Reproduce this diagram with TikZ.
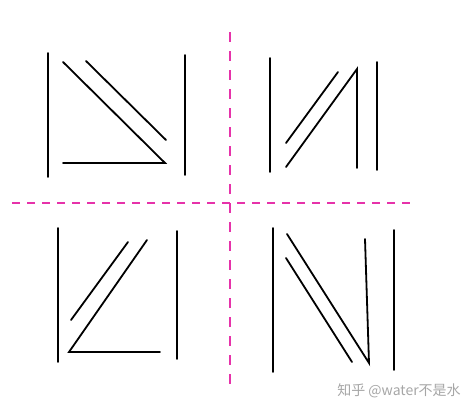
\documentclass[tikz,border=0pt]{standalone}
\usepackage{fontspec}
\newfontfamily\cjk{Noto Sans CJK SC}
\usetikzlibrary{positioning}
\definecolor{axispink}{RGB}{230,50,170}
\tikzset{
  stroke/.style={line width=1.8pt, line cap=round, line join=miter},
  axisline/.style={line width=2pt, color=axispink, dash pattern=on 8pt off 7pt}
}

\begin{document}
\begin{tikzpicture}[x=1pt, y=-1pt]
\useasboundingbox (0,0) rectangle (474,407);

% dashed axes
\draw[axisline] (12,203) -- (415,203);
\draw[axisline, dash pattern=on 10pt off 9pt] (230,32) -- (230,393);

% top left
\draw[stroke] (48,53) -- (48,177);
\draw[stroke] (185,55) -- (185,175);
\draw[stroke] (63,62) -- (165,163) -- (63,163);
\draw[stroke] (86,61) -- (166,140);

% top right
\draw[stroke] (270,58) -- (270,172);
\draw[stroke] (377,62) -- (377,170);
\draw[stroke] (286,167) -- (357,69) -- (357,168);
\draw[stroke] (286,143) -- (338,72);

% bottom left
\draw[stroke] (58,228) -- (58,362);
\draw[stroke] (177,231) -- (177,359);
\draw[stroke] (147,240) -- (69,352) -- (160,352);
\draw[stroke] (71,320) -- (128,242);

% bottom right
\draw[stroke] (273,228) -- (273,372);
\draw[stroke] (394,230) -- (394,370);
\draw[stroke] (287,234) -- (369,363) -- (365,239);
\draw[stroke] (286,258) -- (352,362);

% watermark
\node[text=black!35, font=\cjk\fontsize{14}{15}\selectfont, inner sep=0pt]
  (mark) at (399,391) {知乎 @water不是水};
\end{tikzpicture}
\end{document}
